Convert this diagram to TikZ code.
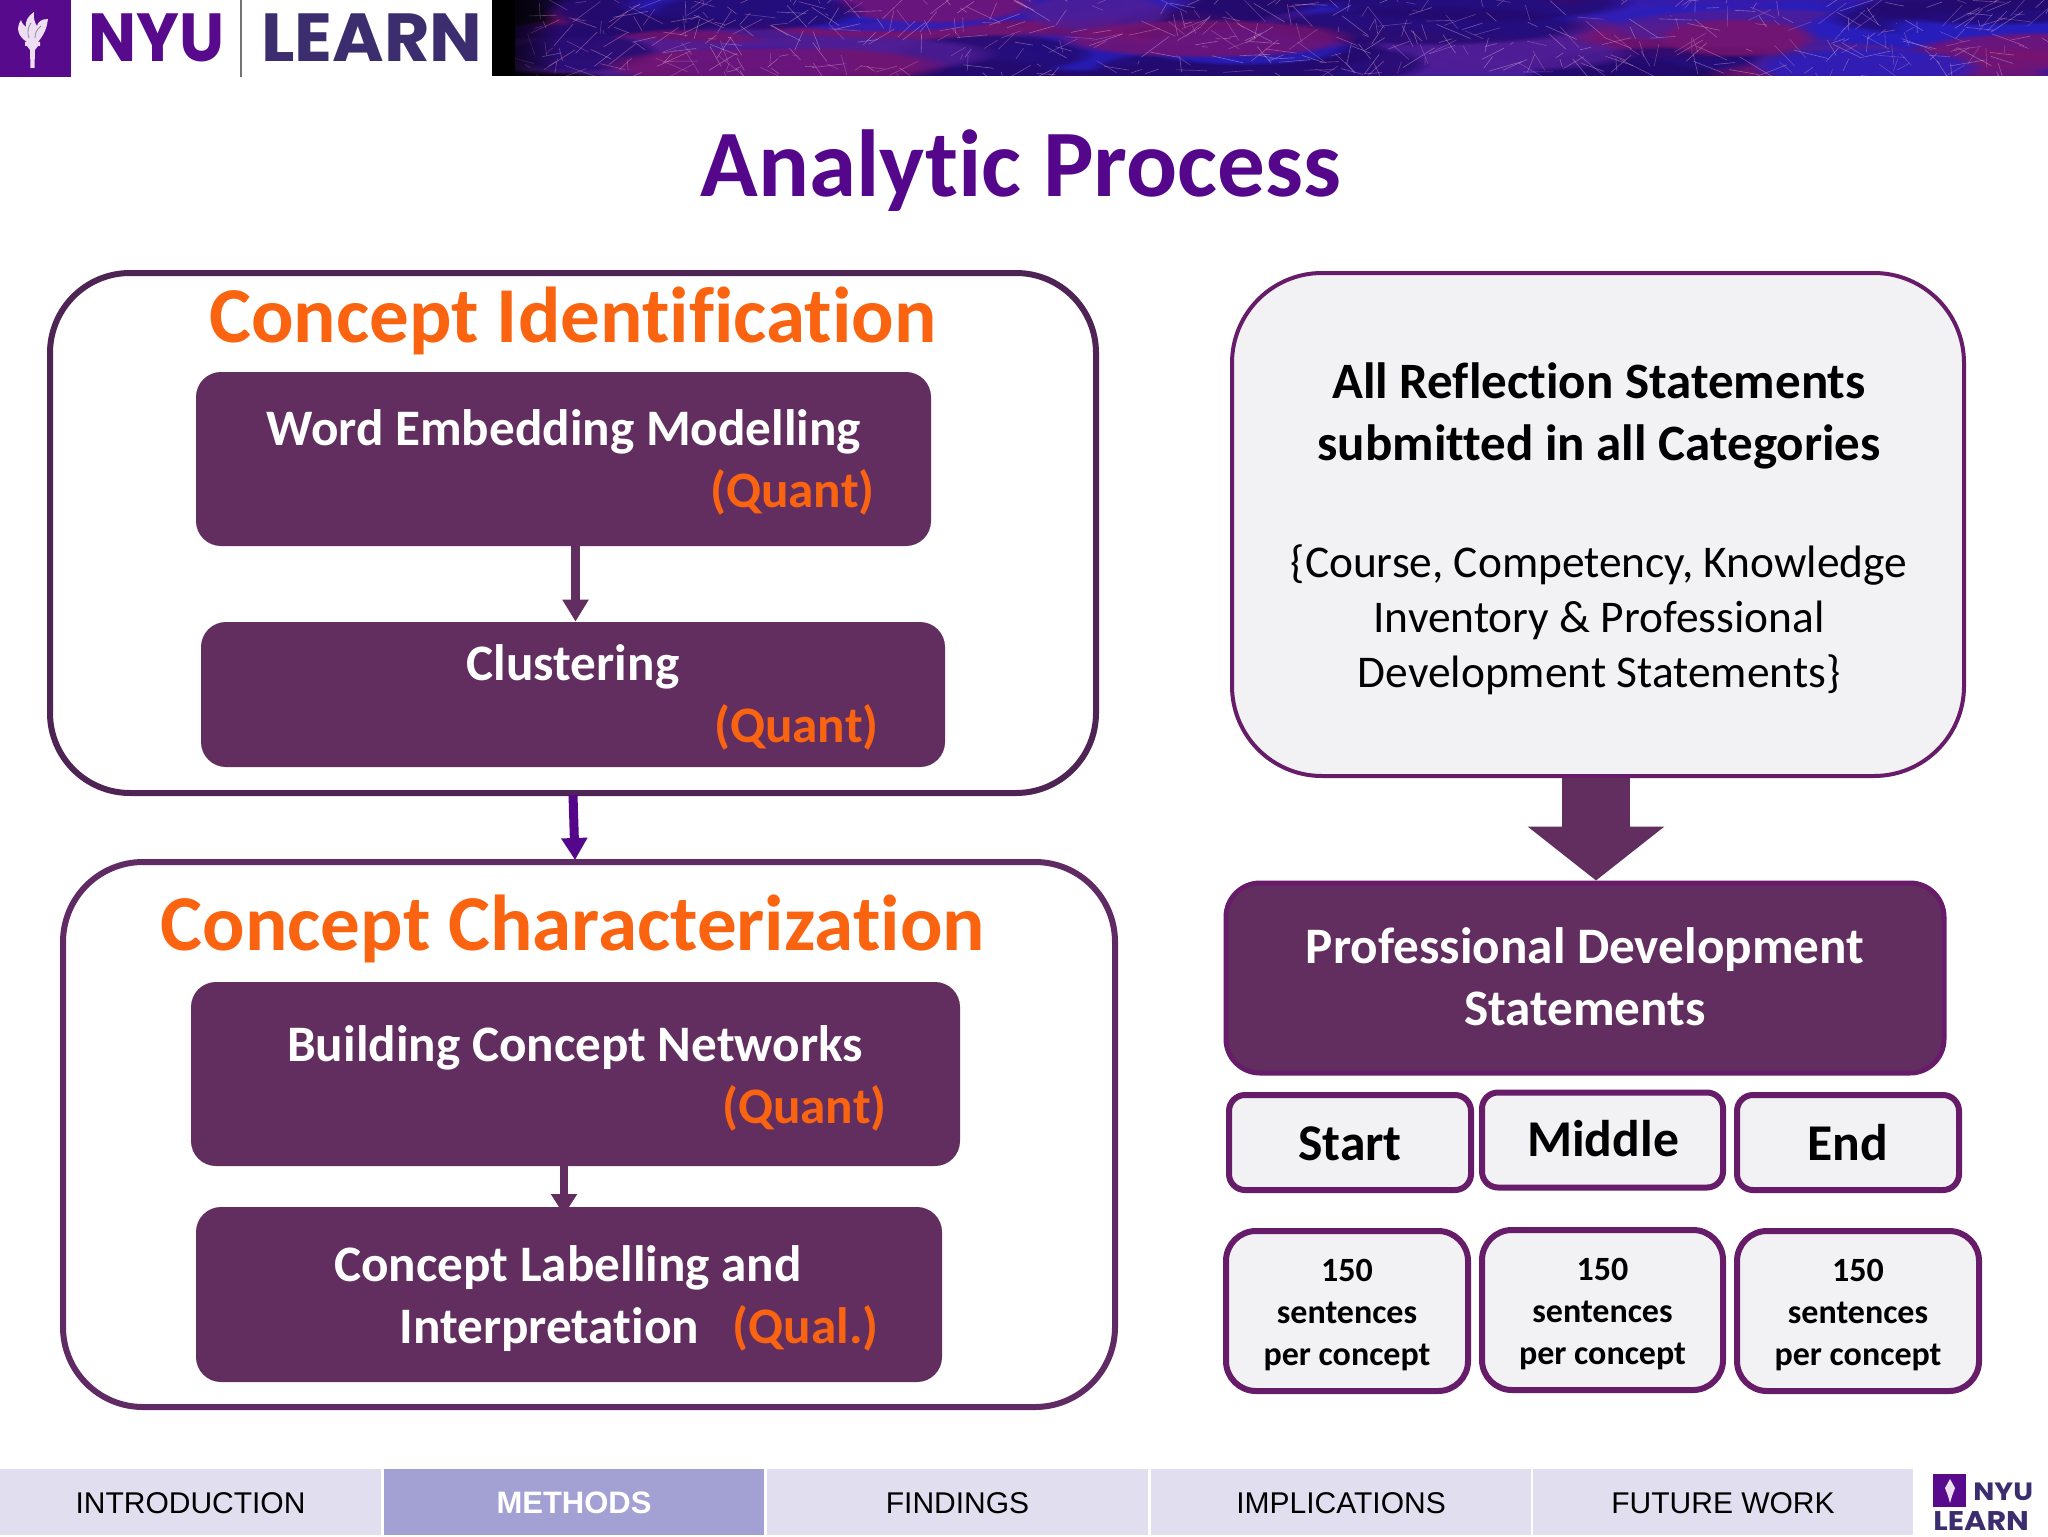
\documentclass[tikz,border=0pt]{standalone}
\usepackage{fontspec}
\setmainfont{Carlito}[RawFeature={-liga;-clig;-dlig}]
\newfontfamily\logonyu{Poppins}[FakeStretch=.94]
\newfontfamily\logolearn{Poppins}[FakeStretch=1.03]
\newfontfamily\logosmall{Poppins}[FakeStretch=1.12]
\newfontfamily\arialf{Liberation Sans}
\usetikzlibrary{arrows.meta,calc,fadings}
\definecolor{boxp}{RGB}{98,46,96}
\definecolor{edgep}{RGB}{103,28,106}
\definecolor{outerA}{RGB}{78,36,84}
\definecolor{outerB}{RGB}{96,42,100}
\definecolor{titlep}{RGB}{84,7,138}
\definecolor{orng}{RGB}{250,100,16}
\definecolor{greyf}{RGB}{242,241,243}
\definecolor{tabl}{RGB}{224,222,239}
\definecolor{tabd}{RGB}{163,160,212}
\definecolor{logop}{RGB}{88,10,140}
\definecolor{learnc}{RGB}{60,45,110}
\definecolor{torchc}{RGB}{238,222,243}
\definecolor{banA}{RGB}{35,10,110}
\definecolor{banB}{RGB}{40,30,190}
\definecolor{banC}{RGB}{120,20,110}
\definecolor{banD}{RGB}{80,30,150}
\definecolor{banE}{RGB}{15,8,35}
\tikzset{
 x=0.5pt,y=-0.5pt,
 outer/.style={draw=outerB,line width=3pt,fill=white,rounded corners=40pt},
 solid box/.style={fill=boxp,rounded corners=12.5pt},
 grey box/.style={draw=edgep,fill=greyf},
 head/.style={anchor=base,font=\bfseries\fontsize{39.6}{39.6}\selectfont,text=orng,inner sep=0pt},
 wtxt/.style={anchor=base,font=\bfseries\fontsize{25.6}{25.6}\selectfont,text=white,inner sep=0pt},
 otxt/.style={anchor=base east,font=\bfseries\fontsize{25.6}{25.6}\selectfont,text=orng,inner sep=0pt},
 btxt/.style={anchor=base,font=\bfseries\fontsize{25.5}{25.5}\selectfont,text=black,inner sep=0pt},
 ntxt/.style={anchor=base,font=\fontsize{22.7}{22.7}\selectfont,text=black,inner sep=0pt},
 stxt/.style={anchor=base,font=\bfseries\fontsize{17}{17}\selectfont,text=black,inner sep=0pt},
 mtxt/.style={anchor=base,font=\bfseries\fontsize{25.8}{25.8}\selectfont,text=black,inner sep=0pt},
 thin arrow/.style={draw=boxp,line width=4.5pt,-{Triangle[length=11pt,width=12.5pt]}},
 tab/.style={anchor=center,font=\arialf\fontsize{15}{15}\selectfont,inner sep=0pt},
 mid/.style={grey box,line width=3pt,rounded corners=8pt,inner sep=0pt},
 low/.style={grey box,line width=3pt,rounded corners=15pt,inner sep=0pt},
}
\begin{document}
\begin{tikzpicture}
\useasboundingbox (0,0) rectangle (2048,1536);
\fill[white] (0,0) rectangle (2048,1536);
% ---- banner
\begin{scope}
\clip (492,0) rectangle (2048,76);
\fill[banE] (492,0) rectangle (2048,76);
\pgfmathsetseed{4242}
\foreach \i in {1,...,170}{
  \pgfmathsetmacro{\xa}{560+rnd*1500}
  \pgfmathsetmacro{\ya}{rnd*76}
  \pgfmathsetmacro{\wa}{70+rnd*120}
  \pgfmathtruncatemacro{\ca}{int(rnd*5)}
  \ifcase\ca\def\cc{banA}\or\def\cc{banB}\or\def\cc{banC}\or\def\cc{banD}\or\def\cc{banA}\fi
  \fill[\cc,path fading=circle with fuzzy edge 20 percent,opacity=.8] (\xa,\ya) ellipse[x radius=\wa,y radius=20];
}
\foreach \i in {1,...,520}{
  \pgfmathsetmacro{\xa}{525+rnd*1523}
  \pgfmathsetmacro{\ya}{rnd*76}
  \pgfmathsetmacro{\dx}{-35+rnd*70}
  \pgfmathsetmacro{\dy}{-22+rnd*44}
  \pgfmathtruncatemacro{\ca}{int(rnd*3)}
  \ifcase\ca\def\cc{white!80!violet}\or\def\cc{violet!45!white}\or\def\cc{magenta!35!white}\fi
  \draw[\cc,line width=.3pt,opacity=.4] (\xa,\ya) -- ++(\dx,\dy);
}
\end{scope}
\shade[left color=black,right color=black,middle color=black,opacity=0] (492,0) rectangle (494,1);
\fill[black,path fading=east] (492,0) rectangle (560,76);
\fill[black] (492,0) rectangle (515,76);
% ---- header logo
\fill[logop] (0,0) rectangle (71,77);
\fill[torchc]
 (27,42) .. controls (19,37) and (15,29) .. (21,20)
 .. controls (22,24) and (24,25) .. (26,27)
 .. controls (25,21) and (28,16) .. (34,12)
 .. controls (33,18) and (35,23) .. (37,26)
 .. controls (38,22) and (41,19) .. (48,19)
 .. controls (47,24) and (47,31) .. (38,42) -- cycle;
\draw[black!45,line width=.4pt] (29,38) .. controls (27,32) and (28,27) .. (31,23)
 (35,38) .. controls (35,33) and (37,29) .. (41,26);
\fill[torchc] (25,42) rectangle (40,46) (27,46) -- (38,46) -- (35,50) -- (34.5,68) -- (30.5,68) -- (30,50) -- cycle;
\node[anchor=base west,inner sep=0pt,text=logop,font=\logonyu\bfseries\fontsize{34}{34}\selectfont] (nyu) at (88,62) {NYU};
\draw[black!55,line width=.6pt] (241,0) -- (241,77);
\node[anchor=base west,inner sep=0pt,text=learnc,font=\logolearn\bfseries\fontsize{34}{34}\selectfont] (learn) at (261,62) {LEARN};
% ---- title
\node[anchor=base,inner sep=0pt,text=titlep,font=\bfseries\fontsize{47.6}{47.6}\selectfont] (title) at (1021,196) {Analytic Process};
% ---- outer boxes
\draw[outer,draw=outerA] (50,273) rectangle (1096,793);
\draw[outer] (63,862) rectangle (1115,1407);
\coordinate (identS) at (573,795);
\coordinate (charN) at (575,860);
\draw[line width=4.5pt,draw=titlep,-{Triangle[length=11pt,width=12.5pt]}] (identS) -- (charN);
\node[head] (h1) at (573,342) {Concept Identification};
\node[head] (h2) at (573,950) {Concept Characterization};
% ---- left solid boxes
\node[solid box,minimum width=367.5pt,minimum height=87pt,inner sep=0pt] (wem) at (563.5,459) {};
\node[solid box,minimum width=372pt,minimum height=72.5pt,inner sep=0pt] (clu) at (573,694.5) {};
\node[solid box,minimum width=384.5pt,minimum height=92pt,inner sep=0pt] (bcn) at (575.5,1074) {};
\node[solid box,minimum width=373pt,minimum height=87.5pt,inner sep=0pt] (cli) at (569,1294.5) {};
\coordinate (ax) at (575.5,0);
\coordinate (bx) at (564,0);
\coordinate (bdeep) at (0,1215);
\draw[thin arrow] (wem.south -| ax) -- (clu.north -| ax);
\draw[draw=boxp,line width=4pt,-{Triangle[length=10.5pt,width=12.5pt]}] (bcn.south -| bx) -- (bdeep -| bx);
\node[wtxt] (t1) at (564,445) {Word Embedding Modelling};
\node[otxt] (q1) at (875,507) {(Quant)};
\node[wtxt] (t2) at (573,680) {Clustering};
\node[otxt] (q2) at (879,742) {(Quant)};
\node[wtxt] (t3) at (575,1061) {Building Concept Networks};
\node[otxt] (q3) at (887,1123) {(Quant)};
\node[wtxt] (t4) at (568,1281) {Concept Labelling and};
\node[wtxt,anchor=base west] (t5) at (399,1343) {Interpretation};
\node[otxt] (q4) at (879,1343) {(Qual.)};
% ---- right column
\node[grey box,line width=2pt,rounded corners=45pt,minimum width=366pt,minimum height=251.5pt,inner sep=0pt] (all) at (1598,524.5) {};
\node[btxt] (a1) at (1599,398) {All Reflection Statements};
\node[btxt] (a2) at (1599,460) {submitted in all Categories};
\node[ntxt] (a3) at (1599,577) {\{Course, Competency, Knowledge};
\node[ntxt] (a4) at (1599,632) {Inventory \& Professional};
\node[ntxt] (a5) at (1599,687) {Development Statements\}};
\node[draw=edgep,fill=boxp,line width=2.5pt,rounded corners=17pt,minimum width=359pt,minimum height=95pt,inner sep=0pt] (pds) at (1585,978) {};
\coordinate (bigx) at (1596,0);
\draw[draw=boxp,line width=34pt,-{Triangle[length=27pt,width=67pt]}] (all.south -| bigx) -- (pds.north -| bigx);
\node[wtxt] (p1) at (1585,963) {Professional Development};
\node[wtxt] (p2) at (1585,1025) {Statements};
\node[mid,minimum width=121pt,minimum height=47.5pt] (st) at (1350,1142.5) {};
\node[mid,minimum width=120.5pt,minimum height=47.5pt] (mi) at (1602.5,1140) {};
\node[mid,minimum width=111pt,minimum height=47.5pt] (en) at (1848,1142.5) {};
\node[mtxt] (s1) at (1350,1160) {Start};
\node[mtxt] (m1) at (1603,1156) {Middle};
\node[mtxt] (e1) at (1848,1160) {End};
\node[low,minimum width=121pt,minimum height=80pt] (l1) at (1347,1311) {};
\node[low,minimum width=120.5pt,minimum height=80pt] (l2) at (1602.5,1310) {};
\node[low,minimum width=121pt,minimum height=80pt] (l3) at (1858,1311) {};
\foreach \nm/\cx/\dy in {a/1347/0,b/1602.5/-1,c/1858/0}{
  \node[stxt] (\nm1) at (\cx,1281+\dy) {150};
  \node[stxt] (\nm2) at (\cx,1323+\dy) {sentences};
  \node[stxt] (\nm3) at (\cx,1365+\dy) {per concept};
}
% ---- footer
\foreach \nm/\a/\b/\c/\tc/\lbl in {t1f/0/381/tabl/black/INTRODUCTION,t3f/767/1148/tabl/black/FINDINGS,t4f/1151/1531/tabl/black/IMPLICATIONS,t5f/1533/1913/tabl/black/FUTURE WORK}{
  \fill[\c] (\a,1469) rectangle (\b,1535);
  \node[tab,text=\tc] (\nm) at ({(\a+\b)/2},1503) {\lbl};
}
\fill[tabd] (384,1469) rectangle (764,1535);
\node[tab,text=white,font=\arialf\bfseries\fontsize{15.5}{15.5}\selectfont] (t2f) at (574,1503) {METHODS};
% ---- footer logo
\fill[logop] (1933,1474) rectangle (1966,1507);
\fill[torchc] (1950,1479) -- (1955,1488) -- (1952,1496) -- (1950,1503) -- (1948,1496) -- (1945,1488) -- cycle;
\node[anchor=base west,inner sep=0pt,text=learnc,font=\logosmall\bfseries\fontsize{12.5}{12.5}\selectfont] (fn) at (1973,1500) {NYU};
\node[anchor=base west,inner sep=0pt,text=learnc,font=\logosmall\bfseries\fontsize{13.5}{13.5}\selectfont] (fl) at (1933,1530) {LEARN};
\end{tikzpicture}
\end{document}
